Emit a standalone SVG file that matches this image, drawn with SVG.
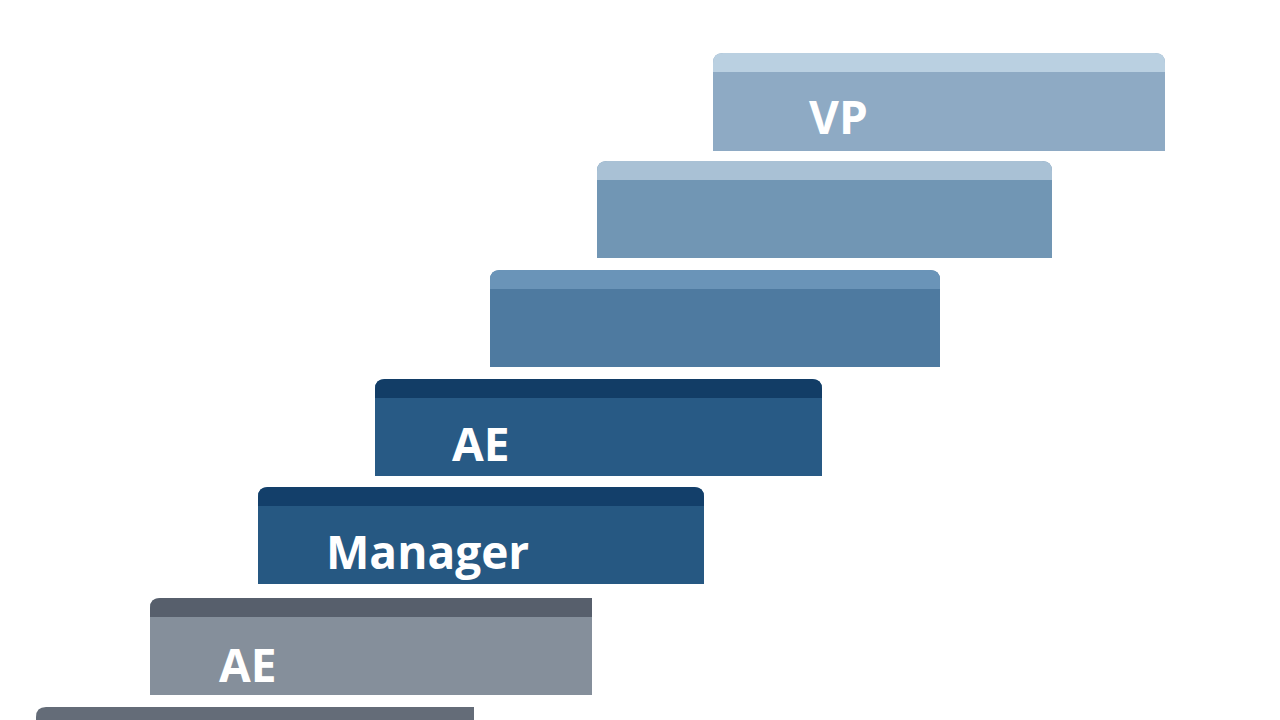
<svg xmlns="http://www.w3.org/2000/svg" width="1280" height="720" viewBox="0 0 1280 720">
<style>
.lbl{font-family:"Open Sans","Noto Sans","Liberation Sans",sans-serif;font-weight:700;font-size:46px;fill:#ffffff}
</style>
<rect width="1280" height="720" fill="#ffffff"/>
<g id="step7">
<path d="M36,720 V717 Q36,707 46,707 H474 V720 Z" fill="#646c78"/>
</g>
<g id="step6">
<path d="M150,695 V608 Q150,598 160,598 H592 V695 Z" fill="#858f9b"/>
<path d="M150,617 V608 Q150,598 160,598 H592 V617 Z" fill="#575f6c"/>
<text class="lbl" x="219" y="682">AE</text>
</g>
<g id="step5">
<path d="M258,584 V497 Q258,487 268,487 H694 Q704,487 704,497 V584 Z" fill="#265882"/>
<path d="M258,506 V497 Q258,487 268,487 H694 Q704,487 704,497 V506 Z" fill="#133f6a"/>
<text class="lbl" x="326" y="569">Manager</text>
</g>
<g id="step4">
<path d="M375,476 V389 Q375,379 385,379 H812 Q822,379 822,389 V476 Z" fill="#285a85"/>
<path d="M375,398 V389 Q375,379 385,379 H812 Q822,379 822,389 V398 Z" fill="#123d66"/>
<text class="lbl" x="452" y="461">AE</text>
</g>
<g id="step3">
<path d="M490,367 V280 Q490,270 500,270 H930 Q940,270 940,280 V367 Z" fill="#4e7aa0"/>
<path d="M490,289 V280 Q490,270 500,270 H930 Q940,270 940,280 V289 Z" fill="#6a94b8"/>
</g>
<g id="step2">
<path d="M597,258 V171 Q597,161 607,161 H1042 Q1052,161 1052,171 V258 Z" fill="#7196b4"/>
<path d="M597,180 V171 Q597,161 607,161 H1042 Q1052,161 1052,171 V180 Z" fill="#a9c1d5"/>
</g>
<g id="step1">
<path d="M713,151 V63 Q713,53 723,53 H1155 Q1165,53 1165,63 V151 Z" fill="#8eaac4"/>
<path d="M713,72 V63 Q713,53 723,53 H1155 Q1165,53 1165,63 V72 Z" fill="#bad0e1"/>
<text class="lbl" x="809" y="134">VP</text>
</g>
<g id="connectors"/>
</svg>
